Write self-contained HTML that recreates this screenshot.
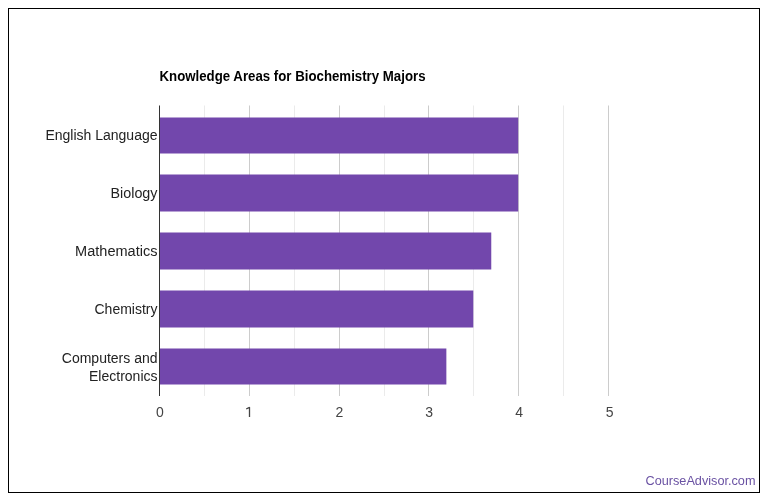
<!DOCTYPE html>
<html>
<head>
<meta charset="utf-8">
<style>
html,body{margin:0;padding:0;background:#fff;width:770px;height:503px;overflow:hidden;}
#w{position:absolute;left:0;top:0;width:770px;height:503px;will-change:transform;}
svg{position:absolute;left:0;top:0;}
text{font-family:"Liberation Sans",sans-serif;}
</style>
</head>
<body>
<div id="w">
<svg width="770" height="503" viewBox="0 0 770 503">
<rect x="8.5" y="8.5" width="751" height="484" fill="none" stroke="#000" stroke-width="1"/>
<text x="159.5" y="80.8" font-size="14.2" font-weight="bold" fill="#000" textLength="266" lengthAdjust="spacingAndGlyphs">Knowledge Areas for Biochemistry Majors</text>
<g fill="#ebebeb">
<rect x="204" y="105.5" width="1" height="290.5"/>
<rect x="294" y="105.5" width="1" height="290.5"/>
<rect x="384" y="105.5" width="1" height="290.5"/>
<rect x="473" y="105.5" width="1" height="290.5"/>
<rect x="563" y="105.5" width="1" height="290.5"/>
</g>
<g fill="#cccccc">
<rect x="249" y="105.5" width="1" height="290.5"/>
<rect x="339" y="105.5" width="1" height="290.5"/>
<rect x="428" y="105.5" width="1" height="290.5"/>
<rect x="518" y="105.5" width="1" height="290.5"/>
<rect x="608" y="105.5" width="1" height="290.5"/>
</g>
<g fill="#7247ac">
<rect x="159" y="117.5" width="359.20" height="36.0"/>
<rect x="159" y="174.5" width="359.20" height="37.0"/>
<rect x="159" y="232.5" width="332.26" height="37.0"/>
<rect x="159" y="290.5" width="314.30" height="37.0"/>
<rect x="159" y="348.5" width="287.36" height="36.0"/>
</g>
<rect x="159" y="105.5" width="1" height="290.5" fill="#333"/>
<g font-size="14" fill="#222" text-anchor="end">
<text x="157.5" y="140">English Language</text>
<text x="157.5" y="198" textLength="47" lengthAdjust="spacingAndGlyphs">Biology</text>
<text x="157.5" y="256" textLength="82.4" lengthAdjust="spacingAndGlyphs">Mathematics</text>
<text x="157.5" y="314">Chemistry</text>
<text x="157.5" y="363">Computers and</text>
<text x="157.5" y="381">Electronics</text>
</g>
<g font-size="14" fill="#444" text-anchor="middle">
<text x="160" y="417">0</text>
</g><path d="M246.2 409 L249.5 407.3 L249.5 416.9" fill="none" stroke="#444" stroke-width="1.3" stroke-linejoin="bevel"/><g font-size="14" fill="#444" text-anchor="middle">
<text x="339.4" y="417">2</text>
<text x="429.2" y="417">3</text>
<text x="519.2" y="417">4</text>
<text x="609.7" y="417">5</text>
</g>
<text x="755.5" y="485" font-size="12.7" fill="#6a52a3" text-anchor="end">CourseAdvisor.com</text>
</svg>
</div>
</body>
</html>
